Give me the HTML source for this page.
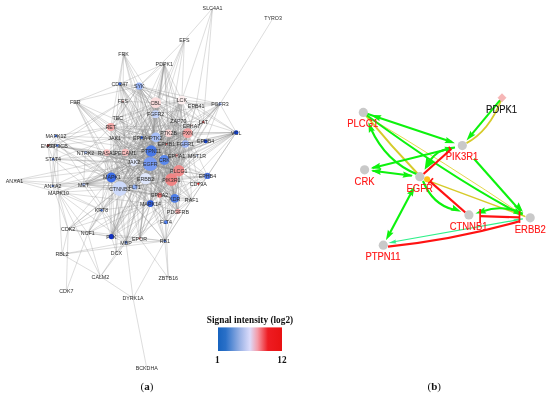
<!DOCTYPE html>
<html lang="en">
<head>
<meta charset="utf-8">
<title>Signalling network</title>
<style>
html,body{margin:0;padding:0;background:#fff;}
body{width:550px;height:398px;overflow:hidden;}
svg{display:block;}
</style>
</head>
<body>
<svg width="550" height="398" viewBox="0 0 550 398">
<defs>
<linearGradient id="lg" x1="0" y1="0" x2="1" y2="0">
<stop offset="0" stop-color="#1763bf"/>
<stop offset="0.12" stop-color="#2a70c8"/>
<stop offset="0.35" stop-color="#9db4e6"/>
<stop offset="0.5" stop-color="#dcdcfb"/>
<stop offset="0.62" stop-color="#f59aa6"/>
<stop offset="0.78" stop-color="#ee1c22"/>
<stop offset="1" stop-color="#e81212"/>
</linearGradient>
</defs>
<rect width="550" height="398" fill="#ffffff"/>
<!-- panel a -->
<g stroke="#8c8c8c" stroke-width="0.45" stroke-opacity="0.66" fill="none">
<path d="M14.5 180.4L52.7 186.0"/>
<path d="M14.5 180.4L150.3 164.0"/>
<path d="M14.5 180.4L134.8 187.0"/>
<path d="M14.5 180.4L58.4 192.4"/>
<path d="M14.5 180.4L151.2 151.0"/>
<path d="M52.7 186.0L68.2 229.2"/>
<path d="M52.7 186.0L119.8 188.6"/>
<path d="M52.7 186.0L150.3 164.0"/>
<path d="M52.7 186.0L48.0 145.5"/>
<path d="M52.7 186.0L101.5 210.2"/>
<path d="M52.7 186.0L111.3 177.5"/>
<path d="M52.7 186.0L58.4 192.4"/>
<path d="M52.7 186.0L83.5 184.4"/>
<path d="M52.7 186.0L125.4 152.4"/>
<path d="M52.7 186.0L57.2 145.5"/>
<path d="M52.7 186.0L53.0 159.3"/>
<path d="M146.7 367.8L133.0 298.0"/>
<path d="M100.4 276.5L116.4 252.6"/>
<path d="M100.4 276.5L133.0 298.0"/>
<path d="M100.4 276.5L58.4 192.4"/>
<path d="M100.4 276.5L126.0 242.4"/>
<path d="M100.4 276.5L87.8 233.2"/>
<path d="M100.4 276.5L62.1 254.3"/>
<path d="M155.7 102.6L119.8 83.8"/>
<path d="M155.7 102.6L119.8 188.6"/>
<path d="M155.7 102.6L184.4 40.2"/>
<path d="M155.7 102.6L150.3 164.0"/>
<path d="M155.7 102.6L176.6 155.4"/>
<path d="M155.7 102.6L159.6 195.2"/>
<path d="M155.7 102.6L191.5 125.4"/>
<path d="M155.7 102.6L139.6 238.4"/>
<path d="M155.7 102.6L145.6 178.6"/>
<path d="M155.7 102.6L122.9 101.3"/>
<path d="M155.7 102.6L185.3 144.0"/>
<path d="M155.7 102.6L155.6 114.2"/>
<path d="M155.7 102.6L220.0 103.9"/>
<path d="M155.7 102.6L134.8 187.0"/>
<path d="M155.7 102.6L123.6 53.8"/>
<path d="M155.7 102.6L114.6 138.0"/>
<path d="M155.7 102.6L133.8 162.2"/>
<path d="M155.7 102.6L174.8 198.4"/>
<path d="M155.7 102.6L181.8 100.1"/>
<path d="M155.7 102.6L111.3 177.5"/>
<path d="M155.7 102.6L150.4 203.6"/>
<path d="M155.7 102.6L83.5 184.4"/>
<path d="M155.7 102.6L177.9 211.6"/>
<path d="M155.7 102.6L164.3 63.8"/>
<path d="M155.7 102.6L125.4 152.4"/>
<path d="M155.7 102.6L171.4 179.6"/>
<path d="M155.7 102.6L155.8 137.4"/>
<path d="M155.7 102.6L168.6 133.2"/>
<path d="M155.7 102.6L111.3 236.6"/>
<path d="M155.7 102.6L151.2 151.0"/>
<path d="M155.7 102.6L187.6 133.2"/>
<path d="M155.7 102.6L106.8 152.6"/>
<path d="M155.7 102.6L110.8 127.0"/>
<path d="M155.7 102.6L139.2 86.2"/>
<path d="M155.7 102.6L117.9 117.6"/>
<path d="M155.7 102.6L178.4 121.0"/>
<path d="M119.8 83.8L164.3 160.0"/>
<path d="M119.8 83.8L150.3 164.0"/>
<path d="M119.8 83.8L75.2 101.6"/>
<path d="M119.8 83.8L122.9 101.3"/>
<path d="M119.8 83.8L155.6 114.2"/>
<path d="M119.8 83.8L123.6 53.8"/>
<path d="M119.8 83.8L114.6 138.0"/>
<path d="M119.8 83.8L203.3 122.2"/>
<path d="M119.8 83.8L181.8 100.1"/>
<path d="M119.8 83.8L164.3 63.8"/>
<path d="M119.8 83.8L125.4 152.4"/>
<path d="M119.8 83.8L171.4 179.6"/>
<path d="M119.8 83.8L178.8 170.8"/>
<path d="M119.8 83.8L155.8 137.4"/>
<path d="M119.8 83.8L151.2 151.0"/>
<path d="M119.8 83.8L139.2 86.2"/>
<path d="M119.8 83.8L178.4 121.0"/>
<path d="M198.3 183.8L164.3 160.0"/>
<path d="M198.3 183.8L181.8 100.1"/>
<path d="M198.3 183.8L171.4 179.6"/>
<path d="M198.3 183.8L178.8 170.8"/>
<path d="M198.3 183.8L139.2 86.2"/>
<path d="M68.2 229.2L66.3 291.0"/>
<path d="M68.2 229.2L119.8 188.6"/>
<path d="M68.2 229.2L150.3 164.0"/>
<path d="M68.2 229.2L101.5 210.2"/>
<path d="M68.2 229.2L111.3 177.5"/>
<path d="M68.2 229.2L58.4 192.4"/>
<path d="M68.2 229.2L150.4 203.6"/>
<path d="M68.2 229.2L87.8 233.2"/>
<path d="M68.2 229.2L111.3 236.6"/>
<path d="M68.2 229.2L164.8 241.0"/>
<path d="M68.2 229.2L62.1 254.3"/>
<path d="M66.3 291.0L87.8 233.2"/>
<path d="M164.3 160.0L119.8 188.6"/>
<path d="M164.3 160.0L184.4 40.2"/>
<path d="M164.3 160.0L150.3 164.0"/>
<path d="M164.3 160.0L176.6 155.4"/>
<path d="M164.3 160.0L159.6 195.2"/>
<path d="M164.3 160.0L141.6 137.6"/>
<path d="M164.3 160.0L191.5 125.4"/>
<path d="M164.3 160.0L166.5 144.0"/>
<path d="M164.3 160.0L205.6 141.2"/>
<path d="M164.3 160.0L207.4 175.9"/>
<path d="M164.3 160.0L139.6 238.4"/>
<path d="M164.3 160.0L145.6 178.6"/>
<path d="M164.3 160.0L122.9 101.3"/>
<path d="M164.3 160.0L185.3 144.0"/>
<path d="M164.3 160.0L220.0 103.9"/>
<path d="M164.3 160.0L134.8 187.0"/>
<path d="M164.3 160.0L165.9 222.3"/>
<path d="M164.3 160.0L114.6 138.0"/>
<path d="M164.3 160.0L133.8 162.2"/>
<path d="M164.3 160.0L174.8 198.4"/>
<path d="M164.3 160.0L203.3 122.2"/>
<path d="M164.3 160.0L181.8 100.1"/>
<path d="M164.3 160.0L111.3 177.5"/>
<path d="M164.3 160.0L83.5 184.4"/>
<path d="M164.3 160.0L197.0 155.6"/>
<path d="M164.3 160.0L85.5 152.4"/>
<path d="M164.3 160.0L177.9 211.6"/>
<path d="M164.3 160.0L125.4 152.4"/>
<path d="M164.3 160.0L171.4 179.6"/>
<path d="M164.3 160.0L178.8 170.8"/>
<path d="M164.3 160.0L155.8 137.4"/>
<path d="M164.3 160.0L168.6 133.2"/>
<path d="M164.3 160.0L111.3 236.6"/>
<path d="M164.3 160.0L151.2 151.0"/>
<path d="M164.3 160.0L187.6 133.2"/>
<path d="M164.3 160.0L191.6 199.8"/>
<path d="M164.3 160.0L106.8 152.6"/>
<path d="M164.3 160.0L110.8 127.0"/>
<path d="M164.3 160.0L139.2 86.2"/>
<path d="M164.3 160.0L236.2 132.4"/>
<path d="M164.3 160.0L178.4 121.0"/>
<path d="M119.8 188.6L116.4 252.6"/>
<path d="M119.8 188.6L150.3 164.0"/>
<path d="M119.8 188.6L176.6 155.4"/>
<path d="M119.8 188.6L159.6 195.2"/>
<path d="M119.8 188.6L141.6 137.6"/>
<path d="M119.8 188.6L191.5 125.4"/>
<path d="M119.8 188.6L166.5 144.0"/>
<path d="M119.8 188.6L207.4 175.9"/>
<path d="M119.8 188.6L145.6 178.6"/>
<path d="M119.8 188.6L75.2 101.6"/>
<path d="M119.8 188.6L155.6 114.2"/>
<path d="M119.8 188.6L134.8 187.0"/>
<path d="M119.8 188.6L114.6 138.0"/>
<path d="M119.8 188.6L133.8 162.2"/>
<path d="M119.8 188.6L174.8 198.4"/>
<path d="M119.8 188.6L101.5 210.2"/>
<path d="M119.8 188.6L181.8 100.1"/>
<path d="M119.8 188.6L111.3 177.5"/>
<path d="M119.8 188.6L58.4 192.4"/>
<path d="M119.8 188.6L150.4 203.6"/>
<path d="M119.8 188.6L126.0 242.4"/>
<path d="M119.8 188.6L83.5 184.4"/>
<path d="M119.8 188.6L87.8 233.2"/>
<path d="M119.8 188.6L85.5 152.4"/>
<path d="M119.8 188.6L171.4 179.6"/>
<path d="M119.8 188.6L57.2 145.5"/>
<path d="M119.8 188.6L178.8 170.8"/>
<path d="M119.8 188.6L155.8 137.4"/>
<path d="M119.8 188.6L168.6 133.2"/>
<path d="M119.8 188.6L111.3 236.6"/>
<path d="M119.8 188.6L151.2 151.0"/>
<path d="M119.8 188.6L187.6 133.2"/>
<path d="M119.8 188.6L191.6 199.8"/>
<path d="M119.8 188.6L106.8 152.6"/>
<path d="M119.8 188.6L164.8 241.0"/>
<path d="M119.8 188.6L110.8 127.0"/>
<path d="M119.8 188.6L236.2 132.4"/>
<path d="M119.8 188.6L178.4 121.0"/>
<path d="M116.4 252.6L111.3 177.5"/>
<path d="M116.4 252.6L150.4 203.6"/>
<path d="M116.4 252.6L126.0 242.4"/>
<path d="M116.4 252.6L111.3 236.6"/>
<path d="M133.0 298.0L126.0 242.4"/>
<path d="M133.0 298.0L164.8 241.0"/>
<path d="M184.4 40.2L155.6 114.2"/>
<path d="M184.4 40.2L181.8 100.1"/>
<path d="M184.4 40.2L155.8 137.4"/>
<path d="M184.4 40.2L212.5 8.3"/>
<path d="M184.4 40.2L139.2 86.2"/>
<path d="M150.3 164.0L196.1 105.4"/>
<path d="M150.3 164.0L176.6 155.4"/>
<path d="M150.3 164.0L159.6 195.2"/>
<path d="M150.3 164.0L141.6 137.6"/>
<path d="M150.3 164.0L191.5 125.4"/>
<path d="M150.3 164.0L166.5 144.0"/>
<path d="M150.3 164.0L205.6 141.2"/>
<path d="M150.3 164.0L207.4 175.9"/>
<path d="M150.3 164.0L139.6 238.4"/>
<path d="M150.3 164.0L145.6 178.6"/>
<path d="M150.3 164.0L75.2 101.6"/>
<path d="M150.3 164.0L122.9 101.3"/>
<path d="M150.3 164.0L185.3 144.0"/>
<path d="M150.3 164.0L155.6 114.2"/>
<path d="M150.3 164.0L220.0 103.9"/>
<path d="M150.3 164.0L134.8 187.0"/>
<path d="M150.3 164.0L165.9 222.3"/>
<path d="M150.3 164.0L123.6 53.8"/>
<path d="M150.3 164.0L114.6 138.0"/>
<path d="M150.3 164.0L133.8 162.2"/>
<path d="M150.3 164.0L174.8 198.4"/>
<path d="M150.3 164.0L101.5 210.2"/>
<path d="M150.3 164.0L181.8 100.1"/>
<path d="M150.3 164.0L55.9 136.0"/>
<path d="M150.3 164.0L126.0 242.4"/>
<path d="M150.3 164.0L83.5 184.4"/>
<path d="M150.3 164.0L197.0 155.6"/>
<path d="M150.3 164.0L85.5 152.4"/>
<path d="M150.3 164.0L177.9 211.6"/>
<path d="M150.3 164.0L164.3 63.8"/>
<path d="M150.3 164.0L125.4 152.4"/>
<path d="M150.3 164.0L171.4 179.6"/>
<path d="M150.3 164.0L57.2 145.5"/>
<path d="M150.3 164.0L178.8 170.8"/>
<path d="M150.3 164.0L155.8 137.4"/>
<path d="M150.3 164.0L168.6 133.2"/>
<path d="M150.3 164.0L111.3 236.6"/>
<path d="M150.3 164.0L151.2 151.0"/>
<path d="M150.3 164.0L187.6 133.2"/>
<path d="M150.3 164.0L191.6 199.8"/>
<path d="M150.3 164.0L106.8 152.6"/>
<path d="M150.3 164.0L164.8 241.0"/>
<path d="M150.3 164.0L110.8 127.0"/>
<path d="M150.3 164.0L53.0 159.3"/>
<path d="M150.3 164.0L139.2 86.2"/>
<path d="M150.3 164.0L117.9 117.6"/>
<path d="M150.3 164.0L236.2 132.4"/>
<path d="M150.3 164.0L178.4 121.0"/>
<path d="M48.0 145.5L122.9 101.3"/>
<path d="M48.0 145.5L111.3 177.5"/>
<path d="M48.0 145.5L55.9 136.0"/>
<path d="M48.0 145.5L57.2 145.5"/>
<path d="M48.0 145.5L106.8 152.6"/>
<path d="M48.0 145.5L110.8 127.0"/>
<path d="M48.0 145.5L53.0 159.3"/>
<path d="M196.1 105.4L185.3 144.0"/>
<path d="M196.1 105.4L220.0 103.9"/>
<path d="M196.1 105.4L203.3 122.2"/>
<path d="M196.1 105.4L181.8 100.1"/>
<path d="M196.1 105.4L155.8 137.4"/>
<path d="M196.1 105.4L187.6 133.2"/>
<path d="M196.1 105.4L212.5 8.3"/>
<path d="M196.1 105.4L139.2 86.2"/>
<path d="M196.1 105.4L236.2 132.4"/>
<path d="M196.1 105.4L178.4 121.0"/>
<path d="M176.6 155.4L191.5 125.4"/>
<path d="M176.6 155.4L166.5 144.0"/>
<path d="M176.6 155.4L205.6 141.2"/>
<path d="M176.6 155.4L145.6 178.6"/>
<path d="M176.6 155.4L185.3 144.0"/>
<path d="M176.6 155.4L133.8 162.2"/>
<path d="M176.6 155.4L174.8 198.4"/>
<path d="M176.6 155.4L181.8 100.1"/>
<path d="M176.6 155.4L171.4 179.6"/>
<path d="M176.6 155.4L178.8 170.8"/>
<path d="M176.6 155.4L155.8 137.4"/>
<path d="M176.6 155.4L151.2 151.0"/>
<path d="M176.6 155.4L236.2 132.4"/>
<path d="M159.6 195.2L207.4 175.9"/>
<path d="M159.6 195.2L145.6 178.6"/>
<path d="M159.6 195.2L185.3 144.0"/>
<path d="M159.6 195.2L165.9 222.3"/>
<path d="M159.6 195.2L174.8 198.4"/>
<path d="M159.6 195.2L181.8 100.1"/>
<path d="M159.6 195.2L111.3 177.5"/>
<path d="M159.6 195.2L150.4 203.6"/>
<path d="M159.6 195.2L177.9 211.6"/>
<path d="M159.6 195.2L125.4 152.4"/>
<path d="M159.6 195.2L171.4 179.6"/>
<path d="M159.6 195.2L178.8 170.8"/>
<path d="M159.6 195.2L155.8 137.4"/>
<path d="M159.6 195.2L168.6 133.2"/>
<path d="M159.6 195.2L151.2 151.0"/>
<path d="M159.6 195.2L187.6 133.2"/>
<path d="M159.6 195.2L178.4 121.0"/>
<path d="M141.6 137.6L145.6 178.6"/>
<path d="M141.6 137.6L114.6 138.0"/>
<path d="M141.6 137.6L133.8 162.2"/>
<path d="M141.6 137.6L174.8 198.4"/>
<path d="M141.6 137.6L111.3 177.5"/>
<path d="M141.6 137.6L171.4 179.6"/>
<path d="M141.6 137.6L178.8 170.8"/>
<path d="M141.6 137.6L155.8 137.4"/>
<path d="M141.6 137.6L151.2 151.0"/>
<path d="M141.6 137.6L187.6 133.2"/>
<path d="M141.6 137.6L106.8 152.6"/>
<path d="M141.6 137.6L110.8 127.0"/>
<path d="M141.6 137.6L178.4 121.0"/>
<path d="M191.5 125.4L145.6 178.6"/>
<path d="M191.5 125.4L155.6 114.2"/>
<path d="M191.5 125.4L133.8 162.2"/>
<path d="M191.5 125.4L174.8 198.4"/>
<path d="M191.5 125.4L181.8 100.1"/>
<path d="M191.5 125.4L111.3 177.5"/>
<path d="M191.5 125.4L171.4 179.6"/>
<path d="M191.5 125.4L155.8 137.4"/>
<path d="M191.5 125.4L151.2 151.0"/>
<path d="M191.5 125.4L187.6 133.2"/>
<path d="M191.5 125.4L110.8 127.0"/>
<path d="M166.5 144.0L205.6 141.2"/>
<path d="M166.5 144.0L207.4 175.9"/>
<path d="M166.5 144.0L145.6 178.6"/>
<path d="M166.5 144.0L133.8 162.2"/>
<path d="M166.5 144.0L111.3 177.5"/>
<path d="M166.5 144.0L171.4 179.6"/>
<path d="M166.5 144.0L155.8 137.4"/>
<path d="M166.5 144.0L168.6 133.2"/>
<path d="M166.5 144.0L151.2 151.0"/>
<path d="M166.5 144.0L187.6 133.2"/>
<path d="M166.5 144.0L178.4 121.0"/>
<path d="M205.6 141.2L185.3 144.0"/>
<path d="M205.6 141.2L220.0 103.9"/>
<path d="M205.6 141.2L171.4 179.6"/>
<path d="M205.6 141.2L155.8 137.4"/>
<path d="M205.6 141.2L187.6 133.2"/>
<path d="M205.6 141.2L236.2 132.4"/>
<path d="M207.4 175.9L145.6 178.6"/>
<path d="M207.4 175.9L165.9 222.3"/>
<path d="M207.4 175.9L174.8 198.4"/>
<path d="M207.4 175.9L171.4 179.6"/>
<path d="M207.4 175.9L178.8 170.8"/>
<path d="M207.4 175.9L151.2 151.0"/>
<path d="M207.4 175.9L187.6 133.2"/>
<path d="M207.4 175.9L164.8 241.0"/>
<path d="M207.4 175.9L236.2 132.4"/>
<path d="M139.6 238.4L145.6 178.6"/>
<path d="M139.6 238.4L114.6 138.0"/>
<path d="M139.6 238.4L133.8 162.2"/>
<path d="M139.6 238.4L174.8 198.4"/>
<path d="M139.6 238.4L150.4 203.6"/>
<path d="M139.6 238.4L126.0 242.4"/>
<path d="M139.6 238.4L171.4 179.6"/>
<path d="M139.6 238.4L178.8 170.8"/>
<path d="M139.6 238.4L111.3 236.6"/>
<path d="M139.6 238.4L151.2 151.0"/>
<path d="M139.6 238.4L164.8 241.0"/>
<path d="M139.6 238.4L168.3 278.0"/>
<path d="M145.6 178.6L185.3 144.0"/>
<path d="M145.6 178.6L155.6 114.2"/>
<path d="M145.6 178.6L220.0 103.9"/>
<path d="M145.6 178.6L134.8 187.0"/>
<path d="M145.6 178.6L165.9 222.3"/>
<path d="M145.6 178.6L133.8 162.2"/>
<path d="M145.6 178.6L174.8 198.4"/>
<path d="M145.6 178.6L101.5 210.2"/>
<path d="M145.6 178.6L181.8 100.1"/>
<path d="M145.6 178.6L111.3 177.5"/>
<path d="M145.6 178.6L126.0 242.4"/>
<path d="M145.6 178.6L83.5 184.4"/>
<path d="M145.6 178.6L164.3 63.8"/>
<path d="M145.6 178.6L125.4 152.4"/>
<path d="M145.6 178.6L171.4 179.6"/>
<path d="M145.6 178.6L178.8 170.8"/>
<path d="M145.6 178.6L155.8 137.4"/>
<path d="M145.6 178.6L168.6 133.2"/>
<path d="M145.6 178.6L111.3 236.6"/>
<path d="M145.6 178.6L187.6 133.2"/>
<path d="M145.6 178.6L191.6 199.8"/>
<path d="M145.6 178.6L106.8 152.6"/>
<path d="M145.6 178.6L164.8 241.0"/>
<path d="M145.6 178.6L110.8 127.0"/>
<path d="M145.6 178.6L139.2 86.2"/>
<path d="M145.6 178.6L236.2 132.4"/>
<path d="M145.6 178.6L178.4 121.0"/>
<path d="M75.2 101.6L114.6 138.0"/>
<path d="M75.2 101.6L133.8 162.2"/>
<path d="M75.2 101.6L111.3 177.5"/>
<path d="M75.2 101.6L125.4 152.4"/>
<path d="M75.2 101.6L155.8 137.4"/>
<path d="M75.2 101.6L151.2 151.0"/>
<path d="M75.2 101.6L106.8 152.6"/>
<path d="M75.2 101.6L110.8 127.0"/>
<path d="M75.2 101.6L139.2 86.2"/>
<path d="M122.9 101.3L123.6 53.8"/>
<path d="M122.9 101.3L133.8 162.2"/>
<path d="M122.9 101.3L125.4 152.4"/>
<path d="M122.9 101.3L171.4 179.6"/>
<path d="M122.9 101.3L57.2 145.5"/>
<path d="M122.9 101.3L151.2 151.0"/>
<path d="M122.9 101.3L110.8 127.0"/>
<path d="M122.9 101.3L139.2 86.2"/>
<path d="M122.9 101.3L117.9 117.6"/>
<path d="M185.3 144.0L155.6 114.2"/>
<path d="M185.3 144.0L220.0 103.9"/>
<path d="M185.3 144.0L133.8 162.2"/>
<path d="M185.3 144.0L174.8 198.4"/>
<path d="M185.3 144.0L111.3 177.5"/>
<path d="M185.3 144.0L197.0 155.6"/>
<path d="M185.3 144.0L164.3 63.8"/>
<path d="M185.3 144.0L171.4 179.6"/>
<path d="M185.3 144.0L178.8 170.8"/>
<path d="M185.3 144.0L151.2 151.0"/>
<path d="M185.3 144.0L187.6 133.2"/>
<path d="M185.3 144.0L110.8 127.0"/>
<path d="M185.3 144.0L236.2 132.4"/>
<path d="M155.6 114.2L220.0 103.9"/>
<path d="M155.6 114.2L133.8 162.2"/>
<path d="M155.6 114.2L174.8 198.4"/>
<path d="M155.6 114.2L111.3 177.5"/>
<path d="M155.6 114.2L164.3 63.8"/>
<path d="M155.6 114.2L125.4 152.4"/>
<path d="M155.6 114.2L171.4 179.6"/>
<path d="M155.6 114.2L178.8 170.8"/>
<path d="M155.6 114.2L151.2 151.0"/>
<path d="M155.6 114.2L187.6 133.2"/>
<path d="M155.6 114.2L139.2 86.2"/>
<path d="M155.6 114.2L178.4 121.0"/>
<path d="M220.0 103.9L203.3 122.2"/>
<path d="M220.0 103.9L181.8 100.1"/>
<path d="M220.0 103.9L171.4 179.6"/>
<path d="M220.0 103.9L178.8 170.8"/>
<path d="M220.0 103.9L168.6 133.2"/>
<path d="M220.0 103.9L151.2 151.0"/>
<path d="M220.0 103.9L139.2 86.2"/>
<path d="M220.0 103.9L273.0 18.3"/>
<path d="M220.0 103.9L236.2 132.4"/>
<path d="M134.8 187.0L165.9 222.3"/>
<path d="M134.8 187.0L114.6 138.0"/>
<path d="M134.8 187.0L174.8 198.4"/>
<path d="M134.8 187.0L181.8 100.1"/>
<path d="M134.8 187.0L111.3 177.5"/>
<path d="M134.8 187.0L150.4 203.6"/>
<path d="M134.8 187.0L126.0 242.4"/>
<path d="M134.8 187.0L83.5 184.4"/>
<path d="M134.8 187.0L171.4 179.6"/>
<path d="M134.8 187.0L178.8 170.8"/>
<path d="M134.8 187.0L155.8 137.4"/>
<path d="M134.8 187.0L111.3 236.6"/>
<path d="M134.8 187.0L151.2 151.0"/>
<path d="M134.8 187.0L187.6 133.2"/>
<path d="M134.8 187.0L106.8 152.6"/>
<path d="M134.8 187.0L110.8 127.0"/>
<path d="M165.9 222.3L174.8 198.4"/>
<path d="M165.9 222.3L150.4 203.6"/>
<path d="M165.9 222.3L177.9 211.6"/>
<path d="M165.9 222.3L171.4 179.6"/>
<path d="M165.9 222.3L178.8 170.8"/>
<path d="M165.9 222.3L151.2 151.0"/>
<path d="M165.9 222.3L164.8 241.0"/>
<path d="M165.9 222.3L168.3 278.0"/>
<path d="M123.6 53.8L155.8 137.4"/>
<path d="M123.6 53.8L151.2 151.0"/>
<path d="M123.6 53.8L110.8 127.0"/>
<path d="M123.6 53.8L139.2 86.2"/>
<path d="M114.6 138.0L133.8 162.2"/>
<path d="M114.6 138.0L174.8 198.4"/>
<path d="M114.6 138.0L181.8 100.1"/>
<path d="M114.6 138.0L111.3 177.5"/>
<path d="M114.6 138.0L55.9 136.0"/>
<path d="M114.6 138.0L150.4 203.6"/>
<path d="M114.6 138.0L177.9 211.6"/>
<path d="M114.6 138.0L125.4 152.4"/>
<path d="M114.6 138.0L171.4 179.6"/>
<path d="M114.6 138.0L57.2 145.5"/>
<path d="M114.6 138.0L178.8 170.8"/>
<path d="M114.6 138.0L155.8 137.4"/>
<path d="M114.6 138.0L151.2 151.0"/>
<path d="M114.6 138.0L187.6 133.2"/>
<path d="M114.6 138.0L53.0 159.3"/>
<path d="M114.6 138.0L117.9 117.6"/>
<path d="M114.6 138.0L178.4 121.0"/>
<path d="M133.8 162.2L174.8 198.4"/>
<path d="M133.8 162.2L101.5 210.2"/>
<path d="M133.8 162.2L181.8 100.1"/>
<path d="M133.8 162.2L111.3 177.5"/>
<path d="M133.8 162.2L58.4 192.4"/>
<path d="M133.8 162.2L150.4 203.6"/>
<path d="M133.8 162.2L126.0 242.4"/>
<path d="M133.8 162.2L83.5 184.4"/>
<path d="M133.8 162.2L87.8 233.2"/>
<path d="M133.8 162.2L177.9 211.6"/>
<path d="M133.8 162.2L164.3 63.8"/>
<path d="M133.8 162.2L125.4 152.4"/>
<path d="M133.8 162.2L171.4 179.6"/>
<path d="M133.8 162.2L178.8 170.8"/>
<path d="M133.8 162.2L155.8 137.4"/>
<path d="M133.8 162.2L168.6 133.2"/>
<path d="M133.8 162.2L111.3 236.6"/>
<path d="M133.8 162.2L151.2 151.0"/>
<path d="M133.8 162.2L187.6 133.2"/>
<path d="M133.8 162.2L106.8 152.6"/>
<path d="M133.8 162.2L110.8 127.0"/>
<path d="M133.8 162.2L53.0 159.3"/>
<path d="M133.8 162.2L139.2 86.2"/>
<path d="M133.8 162.2L117.9 117.6"/>
<path d="M133.8 162.2L178.4 121.0"/>
<path d="M174.8 198.4L111.3 177.5"/>
<path d="M174.8 198.4L150.4 203.6"/>
<path d="M174.8 198.4L126.0 242.4"/>
<path d="M174.8 198.4L83.5 184.4"/>
<path d="M174.8 198.4L177.9 211.6"/>
<path d="M174.8 198.4L125.4 152.4"/>
<path d="M174.8 198.4L171.4 179.6"/>
<path d="M174.8 198.4L178.8 170.8"/>
<path d="M174.8 198.4L155.8 137.4"/>
<path d="M174.8 198.4L168.6 133.2"/>
<path d="M174.8 198.4L111.3 236.6"/>
<path d="M174.8 198.4L151.2 151.0"/>
<path d="M174.8 198.4L187.6 133.2"/>
<path d="M174.8 198.4L191.6 199.8"/>
<path d="M174.8 198.4L106.8 152.6"/>
<path d="M174.8 198.4L164.8 241.0"/>
<path d="M174.8 198.4L236.2 132.4"/>
<path d="M174.8 198.4L178.4 121.0"/>
<path d="M101.5 210.2L111.3 177.5"/>
<path d="M101.5 210.2L58.4 192.4"/>
<path d="M101.5 210.2L150.4 203.6"/>
<path d="M101.5 210.2L126.0 242.4"/>
<path d="M101.5 210.2L83.5 184.4"/>
<path d="M101.5 210.2L87.8 233.2"/>
<path d="M101.5 210.2L111.3 236.6"/>
<path d="M101.5 210.2L106.8 152.6"/>
<path d="M203.3 122.2L181.8 100.1"/>
<path d="M203.3 122.2L171.4 179.6"/>
<path d="M203.3 122.2L178.8 170.8"/>
<path d="M203.3 122.2L151.2 151.0"/>
<path d="M203.3 122.2L187.6 133.2"/>
<path d="M203.3 122.2L212.5 8.3"/>
<path d="M203.3 122.2L139.2 86.2"/>
<path d="M203.3 122.2L236.2 132.4"/>
<path d="M203.3 122.2L178.4 121.0"/>
<path d="M181.8 100.1L111.3 177.5"/>
<path d="M181.8 100.1L150.4 203.6"/>
<path d="M181.8 100.1L177.9 211.6"/>
<path d="M181.8 100.1L164.3 63.8"/>
<path d="M181.8 100.1L125.4 152.4"/>
<path d="M181.8 100.1L171.4 179.6"/>
<path d="M181.8 100.1L178.8 170.8"/>
<path d="M181.8 100.1L155.8 137.4"/>
<path d="M181.8 100.1L168.6 133.2"/>
<path d="M181.8 100.1L151.2 151.0"/>
<path d="M181.8 100.1L187.6 133.2"/>
<path d="M181.8 100.1L110.8 127.0"/>
<path d="M181.8 100.1L212.5 8.3"/>
<path d="M181.8 100.1L139.2 86.2"/>
<path d="M181.8 100.1L117.9 117.6"/>
<path d="M181.8 100.1L236.2 132.4"/>
<path d="M111.3 177.5L58.4 192.4"/>
<path d="M111.3 177.5L55.9 136.0"/>
<path d="M111.3 177.5L150.4 203.6"/>
<path d="M111.3 177.5L126.0 242.4"/>
<path d="M111.3 177.5L83.5 184.4"/>
<path d="M111.3 177.5L87.8 233.2"/>
<path d="M111.3 177.5L85.5 152.4"/>
<path d="M111.3 177.5L164.3 63.8"/>
<path d="M111.3 177.5L125.4 152.4"/>
<path d="M111.3 177.5L171.4 179.6"/>
<path d="M111.3 177.5L57.2 145.5"/>
<path d="M111.3 177.5L178.8 170.8"/>
<path d="M111.3 177.5L155.8 137.4"/>
<path d="M111.3 177.5L111.3 236.6"/>
<path d="M111.3 177.5L151.2 151.0"/>
<path d="M111.3 177.5L191.6 199.8"/>
<path d="M111.3 177.5L106.8 152.6"/>
<path d="M111.3 177.5L164.8 241.0"/>
<path d="M111.3 177.5L110.8 127.0"/>
<path d="M111.3 177.5L53.0 159.3"/>
<path d="M111.3 177.5L139.2 86.2"/>
<path d="M111.3 177.5L178.4 121.0"/>
<path d="M58.4 192.4L150.4 203.6"/>
<path d="M58.4 192.4L126.0 242.4"/>
<path d="M58.4 192.4L87.8 233.2"/>
<path d="M58.4 192.4L57.2 145.5"/>
<path d="M58.4 192.4L62.1 254.3"/>
<path d="M58.4 192.4L53.0 159.3"/>
<path d="M55.9 136.0L150.4 203.6"/>
<path d="M55.9 136.0L126.0 242.4"/>
<path d="M55.9 136.0L151.2 151.0"/>
<path d="M55.9 136.0L110.8 127.0"/>
<path d="M55.9 136.0L53.0 159.3"/>
<path d="M150.4 203.6L126.0 242.4"/>
<path d="M150.4 203.6L87.8 233.2"/>
<path d="M150.4 203.6L177.9 211.6"/>
<path d="M150.4 203.6L171.4 179.6"/>
<path d="M150.4 203.6L178.8 170.8"/>
<path d="M150.4 203.6L155.8 137.4"/>
<path d="M150.4 203.6L111.3 236.6"/>
<path d="M150.4 203.6L151.2 151.0"/>
<path d="M150.4 203.6L187.6 133.2"/>
<path d="M150.4 203.6L191.6 199.8"/>
<path d="M150.4 203.6L106.8 152.6"/>
<path d="M150.4 203.6L164.8 241.0"/>
<path d="M150.4 203.6L178.4 121.0"/>
<path d="M126.0 242.4L111.3 236.6"/>
<path d="M126.0 242.4L151.2 151.0"/>
<path d="M126.0 242.4L191.6 199.8"/>
<path d="M126.0 242.4L164.8 241.0"/>
<path d="M126.0 242.4L62.1 254.3"/>
<path d="M83.5 184.4L197.0 155.6"/>
<path d="M83.5 184.4L85.5 152.4"/>
<path d="M83.5 184.4L171.4 179.6"/>
<path d="M83.5 184.4L178.8 170.8"/>
<path d="M83.5 184.4L155.8 137.4"/>
<path d="M83.5 184.4L151.2 151.0"/>
<path d="M83.5 184.4L187.6 133.2"/>
<path d="M83.5 184.4L106.8 152.6"/>
<path d="M83.5 184.4L53.0 159.3"/>
<path d="M197.0 155.6L171.4 179.6"/>
<path d="M197.0 155.6L178.8 170.8"/>
<path d="M197.0 155.6L151.2 151.0"/>
<path d="M197.0 155.6L236.2 132.4"/>
<path d="M87.8 233.2L171.4 179.6"/>
<path d="M87.8 233.2L111.3 236.6"/>
<path d="M85.5 152.4L171.4 179.6"/>
<path d="M85.5 152.4L57.2 145.5"/>
<path d="M85.5 152.4L178.8 170.8"/>
<path d="M85.5 152.4L151.2 151.0"/>
<path d="M85.5 152.4L106.8 152.6"/>
<path d="M85.5 152.4L110.8 127.0"/>
<path d="M177.9 211.6L171.4 179.6"/>
<path d="M177.9 211.6L178.8 170.8"/>
<path d="M177.9 211.6L155.8 137.4"/>
<path d="M177.9 211.6L151.2 151.0"/>
<path d="M177.9 211.6L187.6 133.2"/>
<path d="M177.9 211.6L191.6 199.8"/>
<path d="M177.9 211.6L106.8 152.6"/>
<path d="M177.9 211.6L164.8 241.0"/>
<path d="M164.3 63.8L171.4 179.6"/>
<path d="M164.3 63.8L178.8 170.8"/>
<path d="M164.3 63.8L155.8 137.4"/>
<path d="M164.3 63.8L168.6 133.2"/>
<path d="M164.3 63.8L151.2 151.0"/>
<path d="M164.3 63.8L187.6 133.2"/>
<path d="M164.3 63.8L139.2 86.2"/>
<path d="M125.4 152.4L171.4 179.6"/>
<path d="M125.4 152.4L178.8 170.8"/>
<path d="M125.4 152.4L155.8 137.4"/>
<path d="M125.4 152.4L168.6 133.2"/>
<path d="M125.4 152.4L111.3 236.6"/>
<path d="M125.4 152.4L151.2 151.0"/>
<path d="M125.4 152.4L187.6 133.2"/>
<path d="M125.4 152.4L139.2 86.2"/>
<path d="M171.4 179.6L178.8 170.8"/>
<path d="M171.4 179.6L155.8 137.4"/>
<path d="M171.4 179.6L168.6 133.2"/>
<path d="M171.4 179.6L111.3 236.6"/>
<path d="M171.4 179.6L151.2 151.0"/>
<path d="M171.4 179.6L187.6 133.2"/>
<path d="M171.4 179.6L191.6 199.8"/>
<path d="M171.4 179.6L106.8 152.6"/>
<path d="M171.4 179.6L110.8 127.0"/>
<path d="M171.4 179.6L139.2 86.2"/>
<path d="M171.4 179.6L117.9 117.6"/>
<path d="M171.4 179.6L236.2 132.4"/>
<path d="M171.4 179.6L178.4 121.0"/>
<path d="M57.2 145.5L178.8 170.8"/>
<path d="M57.2 145.5L106.8 152.6"/>
<path d="M57.2 145.5L53.0 159.3"/>
<path d="M178.8 170.8L155.8 137.4"/>
<path d="M178.8 170.8L151.2 151.0"/>
<path d="M178.8 170.8L187.6 133.2"/>
<path d="M178.8 170.8L191.6 199.8"/>
<path d="M178.8 170.8L106.8 152.6"/>
<path d="M178.8 170.8L110.8 127.0"/>
<path d="M178.8 170.8L139.2 86.2"/>
<path d="M178.8 170.8L117.9 117.6"/>
<path d="M178.8 170.8L236.2 132.4"/>
<path d="M178.8 170.8L178.4 121.0"/>
<path d="M155.8 137.4L168.6 133.2"/>
<path d="M155.8 137.4L111.3 236.6"/>
<path d="M155.8 137.4L151.2 151.0"/>
<path d="M155.8 137.4L187.6 133.2"/>
<path d="M155.8 137.4L191.6 199.8"/>
<path d="M155.8 137.4L106.8 152.6"/>
<path d="M155.8 137.4L110.8 127.0"/>
<path d="M155.8 137.4L139.2 86.2"/>
<path d="M155.8 137.4L117.9 117.6"/>
<path d="M155.8 137.4L236.2 132.4"/>
<path d="M155.8 137.4L178.4 121.0"/>
<path d="M168.6 133.2L151.2 151.0"/>
<path d="M168.6 133.2L187.6 133.2"/>
<path d="M168.6 133.2L139.2 86.2"/>
<path d="M168.6 133.2L236.2 132.4"/>
<path d="M111.3 236.6L151.2 151.0"/>
<path d="M111.3 236.6L187.6 133.2"/>
<path d="M111.3 236.6L106.8 152.6"/>
<path d="M151.2 151.0L187.6 133.2"/>
<path d="M151.2 151.0L106.8 152.6"/>
<path d="M151.2 151.0L110.8 127.0"/>
<path d="M151.2 151.0L53.0 159.3"/>
<path d="M151.2 151.0L139.2 86.2"/>
<path d="M151.2 151.0L117.9 117.6"/>
<path d="M151.2 151.0L236.2 132.4"/>
<path d="M151.2 151.0L178.4 121.0"/>
<path d="M187.6 133.2L191.6 199.8"/>
<path d="M187.6 133.2L106.8 152.6"/>
<path d="M187.6 133.2L110.8 127.0"/>
<path d="M187.6 133.2L139.2 86.2"/>
<path d="M187.6 133.2L236.2 132.4"/>
<path d="M187.6 133.2L178.4 121.0"/>
<path d="M191.6 199.8L164.8 241.0"/>
<path d="M191.6 199.8L236.2 132.4"/>
<path d="M164.8 241.0L62.1 254.3"/>
<path d="M164.8 241.0L168.3 278.0"/>
<path d="M110.8 127.0L139.2 86.2"/>
<path d="M110.8 127.0L117.9 117.6"/>
<path d="M139.2 86.2L117.9 117.6"/>
<path d="M139.2 86.2L178.4 121.0"/>
</g>
<g>
<circle cx="119.8" cy="83.8" r="1.5" fill="#3a6be0"/>
<circle cx="139.2" cy="86.2" r="3.6" fill="#98b4f6"/>
<circle cx="122.9" cy="101.3" r="0.9" fill="#f0a0a0"/>
<circle cx="155.7" cy="102.6" r="5.4" fill="#fadcdc"/>
<circle cx="181.8" cy="100.1" r="4.4" fill="#fdefef"/>
<circle cx="220.0" cy="103.9" r="1.6" fill="#a0b8f4"/>
<circle cx="155.6" cy="114.2" r="3.9" fill="#c4d4fa"/>
<circle cx="178.4" cy="121.0" r="2.0" fill="#f4f4fa"/>
<circle cx="191.5" cy="125.4" r="1.0" fill="#f8d0d0"/>
<circle cx="203.3" cy="122.2" r="1.1" fill="#e85050"/>
<circle cx="110.8" cy="127.0" r="4.0" fill="#f5a8a8"/>
<circle cx="236.2" cy="132.4" r="2.2" fill="#1040d0"/>
<circle cx="168.6" cy="133.2" r="3.8" fill="#fbd6d6"/>
<circle cx="187.6" cy="133.2" r="4.9" fill="#f5a2a2"/>
<circle cx="55.9" cy="136.0" r="1.3" fill="#4070e0"/>
<circle cx="114.6" cy="138.0" r="1.0" fill="#f4f4fa"/>
<circle cx="141.6" cy="137.6" r="1.5" fill="#3060e0"/>
<circle cx="155.8" cy="137.4" r="4.9" fill="#a8c0f8"/>
<circle cx="205.6" cy="141.2" r="2.0" fill="#1040d0"/>
<circle cx="166.5" cy="144.0" r="1.0" fill="#e86060"/>
<circle cx="185.3" cy="144.0" r="3.8" fill="#a0b8f8"/>
<circle cx="48.0" cy="145.5" r="1.2" fill="#d02020"/>
<circle cx="57.2" cy="145.5" r="1.3" fill="#4070e0"/>
<circle cx="85.5" cy="152.4" r="1.6" fill="#b0c4f6"/>
<circle cx="106.8" cy="152.6" r="3.4" fill="#f8c0c0"/>
<circle cx="125.4" cy="152.4" r="3.6" fill="#f8bcbc"/>
<circle cx="151.2" cy="151.0" r="5.7" fill="#4878e8"/>
<circle cx="176.6" cy="155.4" r="1.3" fill="#f09090"/>
<circle cx="197.0" cy="155.6" r="1.0" fill="#c0d0f8"/>
<circle cx="53.0" cy="159.3" r="1.2" fill="#4070e0"/>
<circle cx="133.8" cy="162.2" r="3.8" fill="#e2e9fc"/>
<circle cx="150.3" cy="164.0" r="7.1" fill="#7699f2"/>
<circle cx="164.3" cy="160.0" r="5.0" fill="#5a88ec"/>
<circle cx="178.8" cy="170.8" r="5.7" fill="#f08a8a"/>
<circle cx="207.4" cy="175.9" r="3.2" fill="#5078e0"/>
<circle cx="111.3" cy="177.5" r="4.9" fill="#3c6ce6"/>
<circle cx="115.4" cy="177.0" r="1.3" fill="#2454da"/>
<circle cx="145.6" cy="178.6" r="5.7" fill="#dfe7fc"/>
<circle cx="171.4" cy="179.6" r="6.3" fill="#f08484"/>
<circle cx="198.3" cy="183.8" r="1.1" fill="#e02020"/>
<circle cx="83.5" cy="184.4" r="1.6" fill="#b0c4f6"/>
<circle cx="52.7" cy="186.0" r="1.1" fill="#4070e0"/>
<circle cx="119.8" cy="188.6" r="7.3" fill="#cddafb"/>
<circle cx="134.8" cy="187.0" r="2.6" fill="#92b2f8"/>
<circle cx="159.6" cy="195.2" r="2.5" fill="#f07878"/>
<circle cx="174.8" cy="198.4" r="4.4" fill="#4e7ee8"/>
<circle cx="150.4" cy="203.6" r="3.4" fill="#2c5ce0"/>
<circle cx="101.5" cy="210.2" r="1.2" fill="#4070e0"/>
<circle cx="177.9" cy="211.6" r="2.5" fill="#f4a8a8"/>
<circle cx="165.9" cy="222.3" r="2.0" fill="#5080f0"/>
<circle cx="111.3" cy="236.6" r="2.6" fill="#1030c0"/>
<circle cx="139.6" cy="238.4" r="0.9" fill="#e06060"/>
<circle cx="164.8" cy="241.0" r="1.2" fill="#4070e0"/>
<circle cx="126.0" cy="242.4" r="1.3" fill="#5080e8"/>
</g>
<g font-family="'Liberation Sans', Arial, sans-serif" font-size="5.9" fill="#2c2c2c" text-anchor="middle">
<text transform="translate(212.5 10.4) scale(0.9 1)">SLC4A1</text>
<text transform="translate(273.0 20.4) scale(0.9 1)">TYRO3</text>
<text transform="translate(184.4 42.3) scale(0.9 1)">EFS</text>
<text transform="translate(123.6 55.9) scale(0.9 1)">FRK</text>
<text transform="translate(164.3 65.9) scale(0.9 1)">PDPK1</text>
<text transform="translate(119.8 85.9) scale(0.9 1)">CD247</text>
<text transform="translate(139.2 88.3) scale(0.9 1)">SYK</text>
<text transform="translate(75.2 103.7) scale(0.9 1)">FER</text>
<text transform="translate(122.9 103.4) scale(0.9 1)">FES</text>
<text transform="translate(155.7 104.7) scale(0.9 1)">CBL</text>
<text transform="translate(181.8 102.2) scale(0.9 1)">LCK</text>
<text transform="translate(196.1 107.5) scale(0.9 1)">EPB41</text>
<text transform="translate(220.0 106.0) scale(0.9 1)">FGFR3</text>
<text transform="translate(155.6 116.3) scale(0.9 1)">FGFR2</text>
<text transform="translate(117.9 119.7) scale(0.9 1)">TEC</text>
<text transform="translate(178.4 123.1) scale(0.9 1)">ZAP70</text>
<text transform="translate(191.5 127.5) scale(0.9 1)">EPHA7</text>
<text transform="translate(203.3 124.3) scale(0.9 1)">LAT</text>
<text transform="translate(110.8 129.1) scale(0.9 1)">RET</text>
<text transform="translate(236.2 134.5) scale(0.9 1)">VCL</text>
<text transform="translate(168.6 135.3) scale(0.9 1)">PTK2B</text>
<text transform="translate(187.6 135.3) scale(0.9 1)">PXN</text>
<text transform="translate(55.9 138.1) scale(0.9 1)">MAPK12</text>
<text transform="translate(114.6 140.1) scale(0.9 1)">JAK1</text>
<text transform="translate(141.6 139.7) scale(0.9 1)">EPHA4</text>
<text transform="translate(155.8 139.5) scale(0.9 1)">PTK2</text>
<text transform="translate(205.6 143.3) scale(0.9 1)">EPHB4</text>
<text transform="translate(166.5 146.1) scale(0.9 1)">EPHB1</text>
<text transform="translate(185.3 146.1) scale(0.9 1)">FGFR1</text>
<text transform="translate(48.0 147.6) scale(0.9 1)">ENO2</text>
<text transform="translate(57.2 147.6) scale(0.9 1)">PPP3CB</text>
<text transform="translate(85.5 154.5) scale(0.9 1)">NTRK2</text>
<text transform="translate(106.8 154.7) scale(0.9 1)">RASA1</text>
<text transform="translate(125.4 154.5) scale(0.9 1)">PECAM1</text>
<text transform="translate(151.2 153.1) scale(0.9 1)">PTPN11</text>
<text transform="translate(176.6 157.5) scale(0.9 1)">EPHA1</text>
<text transform="translate(197.0 157.7) scale(0.9 1)">MST1R</text>
<text transform="translate(53.0 161.4) scale(0.9 1)">STAT4</text>
<text transform="translate(133.8 164.3) scale(0.9 1)">JAK2</text>
<text transform="translate(150.3 166.1) scale(0.9 1)">EGFR</text>
<text transform="translate(164.3 162.1) scale(0.9 1)">CRK</text>
<text transform="translate(178.8 172.9) scale(0.9 1)">PLCG1</text>
<text transform="translate(207.4 178.0) scale(0.9 1)">EPHB4</text>
<text transform="translate(112.0 179.1) scale(0.9 1)">MAPK1</text>
<text transform="translate(145.6 180.7) scale(0.9 1)">ERBB2</text>
<text transform="translate(171.4 181.7) scale(0.9 1)">PIK3R1</text>
<text transform="translate(14.5 182.5) scale(0.9 1)">ANXA1</text>
<text transform="translate(198.3 185.9) scale(0.9 1)">CD79A</text>
<text transform="translate(83.5 186.5) scale(0.9 1)">MET</text>
<text transform="translate(52.7 188.1) scale(0.9 1)">ANXA2</text>
<text transform="translate(119.8 190.7) scale(0.9 1)">CTNNB1</text>
<text transform="translate(134.8 189.1) scale(0.9 1)">FLT1</text>
<text transform="translate(58.4 194.5) scale(0.9 1)">MAPK10</text>
<text transform="translate(159.6 197.3) scale(0.9 1)">EPHA2</text>
<text transform="translate(174.8 200.5) scale(0.9 1)">KDR</text>
<text transform="translate(191.6 201.9) scale(0.9 1)">RAF1</text>
<text transform="translate(150.4 205.7) scale(0.9 1)">MAPK14</text>
<text transform="translate(101.5 212.3) scale(0.9 1)">KRT8</text>
<text transform="translate(177.9 213.7) scale(0.9 1)">PDGFRB</text>
<text transform="translate(165.9 224.4) scale(0.9 1)">FLT4</text>
<text transform="translate(68.2 231.3) scale(0.9 1)">CDK2</text>
<text transform="translate(87.8 235.3) scale(0.9 1)">NCF1</text>
<text transform="translate(111.3 238.7) scale(0.9 1)">P   K</text>
<text transform="translate(139.6 240.5) scale(0.9 1)">EPOR</text>
<text transform="translate(164.8 243.1) scale(0.9 1)">RB1</text>
<text transform="translate(126.0 244.5) scale(0.9 1)">MBP</text>
<text transform="translate(116.4 254.7) scale(0.9 1)">DCX</text>
<text transform="translate(62.1 256.4) scale(0.9 1)">RBL2</text>
<text transform="translate(100.4 278.6) scale(0.9 1)">CALM2</text>
<text transform="translate(168.3 280.1) scale(0.9 1)">ZBTB16</text>
<text transform="translate(66.3 293.1) scale(0.9 1)">CDK7</text>
<text transform="translate(133.0 300.1) scale(0.9 1)">DYRK1A</text>
<text transform="translate(146.7 369.9) scale(0.9 1)">BCKDHA</text>
</g>
<!-- legend -->
<text x="250" y="323.0" font-family="'Liberation Serif', 'Times New Roman', serif" font-weight="bold" font-size="9.3" text-anchor="middle" fill="#111">Signal intensity (log2)</text>
<rect x="218" y="327.4" width="64" height="23.6" fill="url(#lg)"/>
<text x="217.4" y="363.3" font-family="'Liberation Serif', 'Times New Roman', serif" font-weight="bold" font-size="9.3" text-anchor="middle" fill="#111">1</text>
<text x="282" y="363.3" font-family="'Liberation Serif', 'Times New Roman', serif" font-weight="bold" font-size="9.3" text-anchor="middle" fill="#111">12</text>
<text x="147" y="389.6" font-family="'Liberation Serif', 'Times New Roman', serif" font-size="11" text-anchor="middle" fill="#111">(<tspan font-weight="bold">a</tspan>)</text>
<text x="434.3" y="389.6" font-family="'Liberation Serif', 'Times New Roman', serif" font-size="11" text-anchor="middle" fill="#111">(<tspan font-weight="bold">b</tspan>)</text>
<!-- panel b -->
<path d="M366.1 115.7Q391.0 146.0 417.5 173.5" stroke="#d6cb2a" stroke-width="2.00" fill="none"/>
<path d="M366.1 115.7Q446.0 163.0 525.3 216.6" stroke="#e4d84e" stroke-width="1.00" fill="none"/>
<path d="M428.0 180.6L525.3 216.6" stroke="#d6cb2a" stroke-width="1.50" fill="none"/>
<path d="M501.0 100.5Q489.0 131.0 466.5 143.2" stroke="#d6cb2a" stroke-width="1.90" fill="none"/>
<path d="M363.3 112.4L451.9 142.1" stroke="#0df20d" stroke-width="2.10" fill="none"/>
<path d="M371.0 115.0L381.7 115.2L379.3 117.8L379.6 121.3Z" fill="#0df20d"/>
<path d="M455.0 143.2L444.3 142.9L446.7 140.4L446.3 136.9Z" fill="#0df20d"/>
<path d="M365.0 114.0Q452.9 178.7 520.9 214.3" stroke="#0df20d" stroke-width="2.10" fill="none"/>
<path d="M523.3 215.3L512.8 213.4L515.5 211.2L515.7 207.7Z" fill="#0df20d"/>
<path d="M417.5 174.5Q386.0 162.0 370.5 128.0" stroke="#0df20d" stroke-width="2.10" fill="none"/>
<path d="M368.4 122.3L374.9 130.8L371.4 130.5L368.9 133.0Z" fill="#0df20d"/>
<path d="M372.5 170.8L411.9 175.7" stroke="#0df20d" stroke-width="2.10" fill="none"/>
<path d="M371.0 170.6L381.5 168.7L379.7 171.7L380.7 175.0Z" fill="#0df20d"/>
<path d="M413.0 175.8L402.4 177.8L404.2 174.8L403.2 171.4Z" fill="#0df20d"/>
<path d="M372.4 167.9L452.6 148.0" stroke="#0df20d" stroke-width="2.10" fill="none"/>
<path d="M370.7 168.3L379.8 162.7L379.2 166.2L381.4 168.9Z" fill="#0df20d"/>
<path d="M454.9 147.4L445.8 153.0L446.4 149.5L444.3 146.8Z" fill="#0df20d"/>
<path d="M455.0 147.5Q437.0 149.0 429.5 161.5" stroke="#0df20d" stroke-width="2.10" fill="none"/>
<path d="M424.6 169.8L426.3 157.4L429.8 160.8L434.6 162.2Z" fill="#0df20d"/>
<path d="M500.1 100.1L470.0 136.4" stroke="#0df20d" stroke-width="2.10" fill="none"/>
<path d="M466.5 140.6L470.5 130.7L472.1 133.9L475.4 134.8Z" fill="#0df20d"/>
<path d="M474.0 158.8L520.7 211.4" stroke="#0df20d" stroke-width="2.10" fill="none"/>
<path d="M523.0 212.0L513.8 206.5L517.2 205.4L518.6 202.2Z" fill="#0df20d"/>
<path d="M423.0 181.0Q432.5 204.5 454.0 209.8" stroke="#0df20d" stroke-width="2.10" fill="none"/>
<path d="M461.2 211.7L450.4 210.6L453.0 208.2L452.9 204.7Z" fill="#0df20d"/>
<path d="M413.2 189.1L388.0 236.4" stroke="#0df20d" stroke-width="2.10" fill="none"/>
<path d="M414.7 186.2L412.7 196.7L410.6 194.0L407.1 193.7Z" fill="#0df20d"/>
<path d="M385.9 240.3L387.9 229.8L390.1 232.5L393.6 232.8Z" fill="#0df20d"/>
<path d="M522.9 213.6Q502.0 204.2 483.0 211.2" stroke="#0df20d" stroke-width="2.10" fill="none"/>
<path d="M475.4 213.4L484.6 207.3L484.1 210.8L486.5 213.4Z" fill="#0df20d"/>
<path d="M522.9 218.9L394.0 241.8" stroke="#2ff08a" stroke-width="1.15" fill="none"/>
<path d="M388.4 242.9L395.9 239.6L395.2 241.7L396.6 243.4Z" fill="#2ff08a"/>
<path d="M523.2 218.1L513.5 219.6L513.9 221.2Z" fill="#2ff08a"/>
<path d="M423.5 174.0L451.0 149.3" stroke="#ff1212" stroke-width="2.20" fill="none"/>
<path d="M451.3 149.7L448.7 146.7" stroke="#ff1212" stroke-width="1.7" fill="none"/>
<path d="M430.2 181.7L465.4 212.5" stroke="#ff1212" stroke-width="2.20" fill="none"/>
<path d="M428.2 183.6L433.0 178.2" stroke="#ff1212" stroke-width="1.7" fill="none"/>
<path d="M480.1 216.1L519.5 217.4" stroke="#ff1212" stroke-width="2.20" fill="none"/>
<path d="M480.1 222.9L480.1 208.9" stroke="#ff1212" stroke-width="1.7" fill="none"/>
<path d="M519.5 222.9L519.5 211.1" stroke="#ff1212" stroke-width="1.7" fill="none"/>
<path d="M519.5 221.2Q456.0 239.5 388.0 246.6" stroke="#ff1212" stroke-width="2.20" fill="none"/>
<circle cx="363.3" cy="112.4" r="4.6" fill="#c9c9c9"/>
<circle cx="462.3" cy="145.6" r="4.6" fill="#c9c9c9"/>
<circle cx="364.6" cy="169.8" r="4.6" fill="#c9c9c9"/>
<circle cx="419.8" cy="176.7" r="4.6" fill="#c9c9c9"/>
<circle cx="468.9" cy="214.9" r="4.6" fill="#c9c9c9"/>
<circle cx="530.2" cy="217.8" r="4.6" fill="#c9c9c9"/>
<circle cx="383.3" cy="245.2" r="4.6" fill="#c9c9c9"/>
<circle cx="427.1" cy="179.2" r="3.0" fill="#ffc31a"/>
<path d="M502.0 93.6l4.2 4.2l-4.2 4.2l-4.2 -4.2Z" fill="#f6b6b6" stroke="#f0a0a0" stroke-width="0.3"/>
<g font-family="'Liberation Sans', Arial, sans-serif" font-size="10.3" fill="#ff1414" stroke="#ff1414" stroke-width="0.12" text-anchor="middle">
<text transform="translate(362.8 127.2) scale(0.92 1)">PLCG1</text>
<text transform="translate(462.0 160.0) scale(0.92 1)">PIK3R1</text>
<text transform="translate(364.6 184.5) scale(0.92 1)">CRK</text>
<text transform="translate(419.6 191.6) scale(0.92 1)">EGFR</text>
<text transform="translate(468.6 230.2) scale(0.92 1)">CTNNB1</text>
<text transform="translate(530.3 233.0) scale(0.92 1)">ERBB2</text>
<text transform="translate(382.9 259.5) scale(0.92 1)">PTPN11</text>
<text transform="translate(501.6 112.6) scale(0.92 1)" fill="#111" stroke="#111">PDPK1</text>
</g>
</svg>
</body>
</html>
